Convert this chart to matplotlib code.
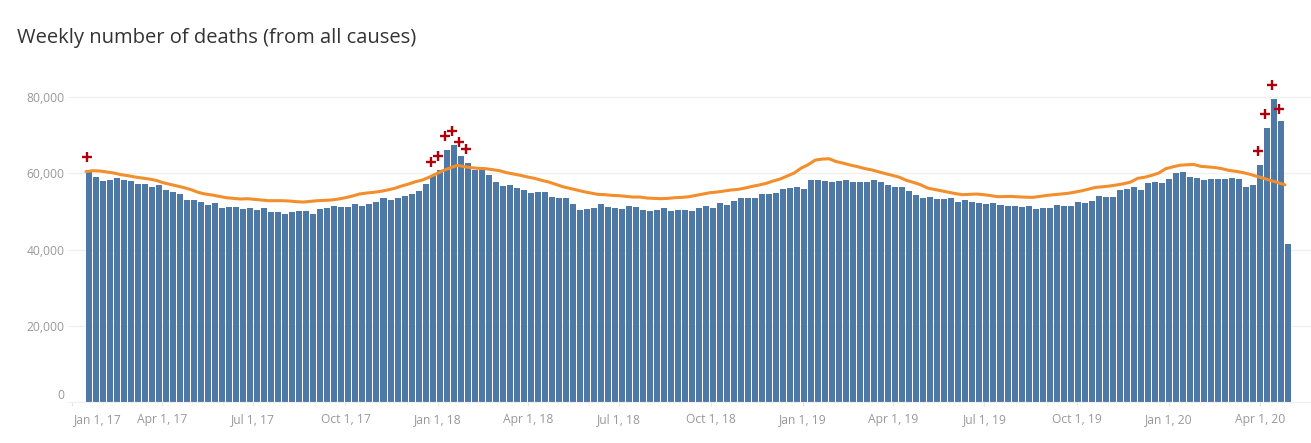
import matplotlib
matplotlib.use('Agg')
import matplotlib.pyplot as plt
import matplotlib.dates as mdates
import matplotlib.transforms as mtrans
import pandas as pd

# weekly deaths
deaths = [
    60900, 59055, 58005, 58270, 58800, 58270, 58005, 57220, 57220, 56430,
    56955, 55640, 55120, 54590, 53020, 53020, 52490, 51700, 52230, 50920,
    51180, 51180, 50650, 50920, 50390, 50920, 49870, 49870, 49340, 49870,
    50130, 50130, 49340, 50655, 50915, 51440, 51180, 51180, 51970, 51440,
    51970, 52490, 53540, 53015, 53540, 54065, 54590, 55380, 57220, 59320,
    60890, 66140, 67450, 64567, 62730, 60890, 60890, 59580, 57740, 56690,
    56955, 56170, 55640, 54855, 55120, 55120, 53805, 53540, 53540, 51970,
    50390, 50650, 50920, 51970, 51180, 50920, 50650, 51440, 51180, 50390,
    50130, 50390, 50920, 50130, 50390, 50390, 50130, 50920, 51440, 50920,
    52230, 51700, 52755, 53540, 53540, 53540, 54590, 54590, 54855, 55905,
    56170, 56430, 55905, 58270, 58270, 58005, 57740, 58005, 58270, 57740,
    57740, 57740, 58270, 57740, 56955, 56430, 56430, 55380, 54330, 53540,
    53805, 53280, 53280, 53540, 52490, 53015, 52490, 52230, 51970, 52230,
    51700, 51440, 51440, 51180, 51440, 50650, 50920, 50920, 51700, 51440,
    51440, 52490, 52230, 52755, 54065, 53805, 53805, 55640, 55905, 56430,
    55640, 57480, 57740, 57480, 58530, 60105, 60370, 59055, 58790, 58270,
    58530, 58530, 58530, 58790, 58530, 56430, 56955, 62205, 71917, 79530,
    73755, 41470,
]

# expected number of deaths (orange line)
expected = [
    60455, 60717, 60630, 60367, 60105, 59667, 59405, 59055, 58792, 58530,
    58180, 57567, 57130, 56692, 56255, 55730, 55030, 54592, 54330, 53980,
    53630, 53455, 53280, 53367, 53192, 53017, 52842, 52842, 52842, 52755,
    52580, 52492, 52667, 52842, 52930, 53017, 53280, 53630, 54067, 54592,
    54855, 55030, 55292, 55642, 56080, 56692, 57217, 57830, 58267, 59055,
    59930, 60805, 61505, 62117, 61767, 61505, 61330, 61242, 60980, 60717,
    60192, 59842, 59492, 59055, 58705, 58180, 57742, 57130, 56517, 56080,
    55642, 55205, 54855, 54505, 54417, 54242, 54155, 53980, 53805, 53805,
    53542, 53455, 53367, 53455, 53630, 53717, 53892, 54242, 54592, 54942,
    55117, 55380, 55642, 55817, 56167, 56605, 56955, 57392, 58005, 58530,
    59317, 60105, 61400, 62300, 63500, 63760, 63850, 63100, 62700, 62200,
    61800, 61300, 60950, 60450, 59950, 59500, 59000, 58200, 57650, 57050,
    56170, 55800, 55430, 55050, 54700, 54420, 54500, 54590, 54420, 54200,
    53890, 53940, 53970, 53850, 53770, 53720, 53950, 54220, 54400, 54600,
    54770, 55080, 55430, 55900, 56340, 56500, 56700, 56970, 57300, 57740,
    58720, 59000, 59500, 60100, 61240, 61720, 62150, 62270, 62350, 61860,
    61700, 61560, 61250, 60800, 60550, 60230, 59770, 59250, 58700, 58150,
    57600, 57000,
]

# weeks flagged with a red cross
flag_weeks = [0, 49, 50, 51, 52, 53, 54, 167, 168, 169, 170]
flag_values = [64380, 62900, 64570, 69740, 71050, 68150, 66330, 65880, 75590, 83200, 76830]

y_ticks = [0, 20000, 40000, 60000, 80000]

weeks = pd.date_range('2017-01-15', periods=len(deaths), freq='7D')
flag_dates = weeks[flag_weeks] + pd.Timedelta(days=1)

W, H = 1311, 443
fig = plt.figure(figsize=(W / 100, H / 100), dpi=100)
plt.rcParams['font.family'] = ['Open Sans', 'DejaVu Sans']

ax = fig.add_axes([72 / W, (H - 402) / H, (W - 72) / W, 342 / H])
ax.set_axisbelow(True)

ax.bar(weeks, deaths, width=6, align='edge', color='#4e79a7', linewidth=0)
ax.plot(weeks, expected, color='#f28e2b', linewidth=2.2, solid_joinstyle='round',
        solid_capstyle='round')
ax.plot(flag_dates, flag_values, linestyle='none', marker='+', color='#b0000c',
        markersize=6.5, markeredgewidth=1.7)

start = pd.Timestamp('2017-01-01')
ax.set_xlim(start, start + pd.Timedelta(days=1237))
ax.set_ylim(0, 89775)

for side in ['top', 'right', 'left']:
    ax.spines[side].set_visible(False)
ax.spines['bottom'].set_color('#f0f0f0')

ax.yaxis.grid(True, color='#f0f0f0', linewidth=1)
ax.set_yticks(y_ticks)
ax.set_yticklabels([f'{v:,}' for v in y_ticks])
ax.tick_params(axis='y', length=3.5, width=0.8, color='#f0f0f0', labelcolor='#999999',
               labelsize=8.7, pad=2)
ax.get_yticklabels()[0].set_va('bottom')

ax.xaxis.set_major_locator(mdates.MonthLocator(bymonth=[1, 4, 7, 10]))
ax.xaxis.set_major_formatter(mdates.DateFormatter('%b %-d, %y'))
ax.xaxis.set_minor_locator(mdates.MonthLocator())
ax.tick_params(axis='x', which='major', length=3, width=0.8, color='#e6e6e6',
               labelcolor='#999999', labelsize=8.7, pad=5)
ax.tick_params(axis='x', which='minor', length=2, width=0.8, color='#f0f0f0')

fig.canvas.draw()
first = ax.get_xticklabels()[0]
first.set_ha('left')
first.set_transform(first.get_transform() + mtrans.ScaledTranslation(2 / 100, 0, fig.dpi_scale_trans))

fig.text(17 / W, 1 - 38 / H, 'Weekly number of deaths (from all causes)', fontsize=14.5,
         color='#333333', va='center', ha='left')

fig.savefig('out.png', dpi=100)
